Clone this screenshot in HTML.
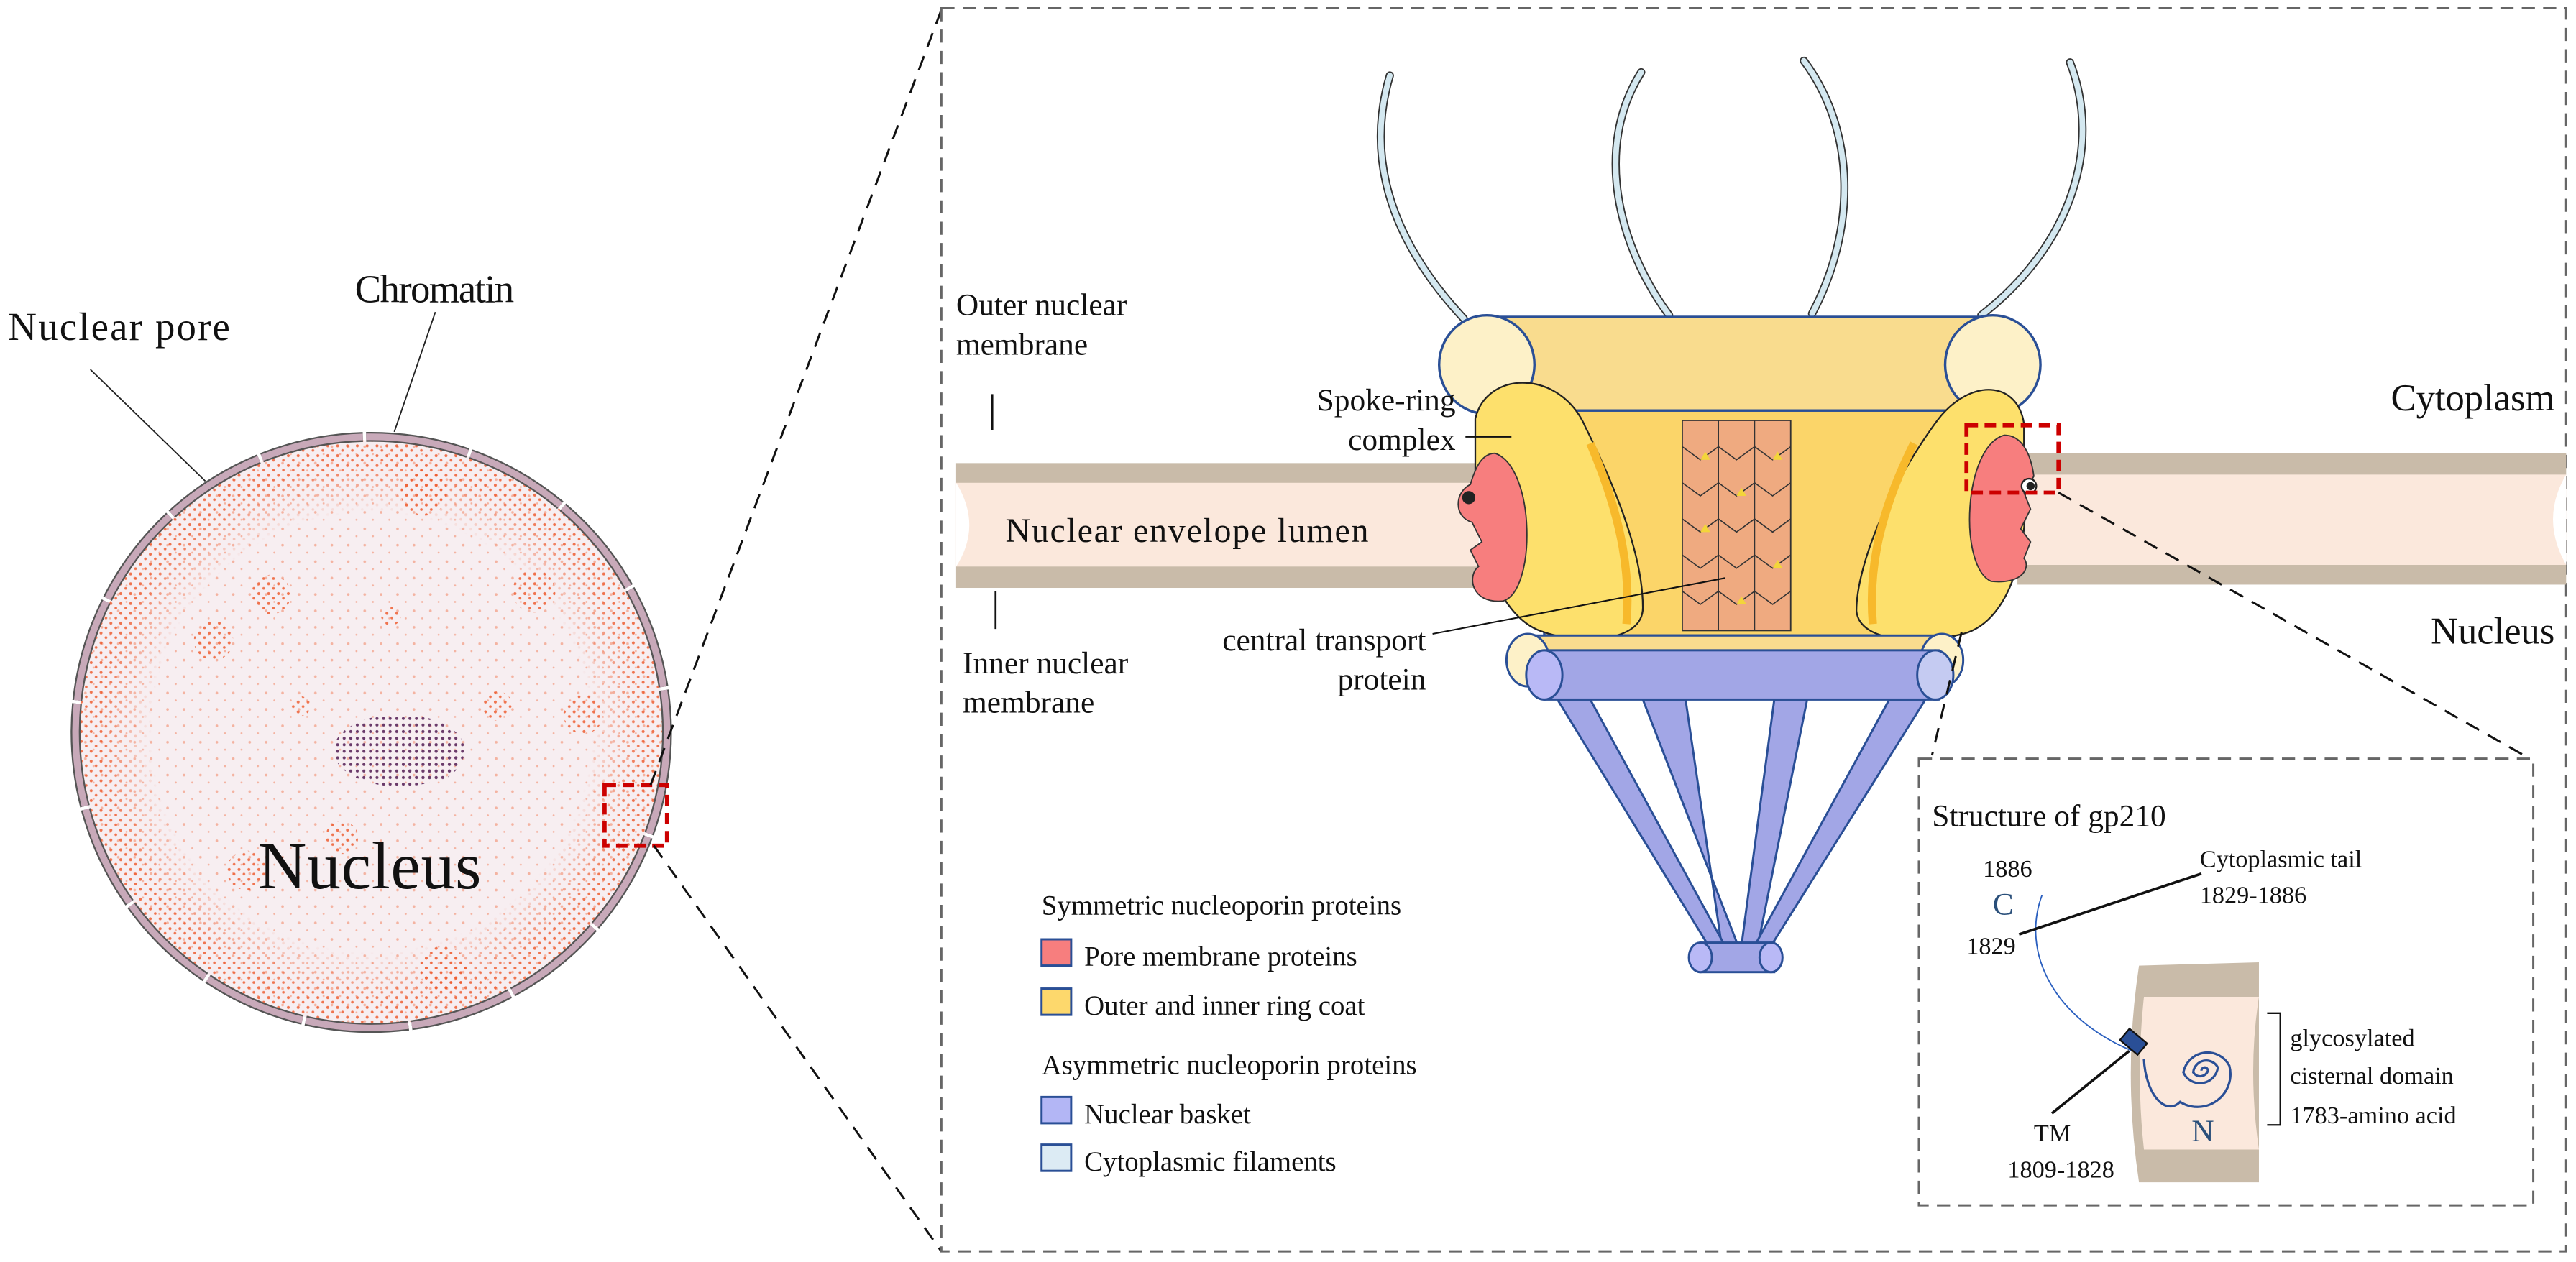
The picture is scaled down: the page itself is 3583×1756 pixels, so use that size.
<!DOCTYPE html>
<html><head><meta charset="utf-8"><style>
html,body{margin:0;padding:0;background:#fff;}
svg{display:block;}
text{font-family:"Liberation Serif",serif;fill:#111;}
</style></head><body>
<svg width="3583" height="1756" viewBox="0 0 1568 768.5" preserveAspectRatio="none" xmlns="http://www.w3.org/2000/svg">
<defs>
<pattern id="dots" width="10" height="10" patternUnits="userSpaceOnUse">
<circle cx="2" cy="2" r="0.8" fill="#ef5a2a"/><circle cx="7" cy="6.5" r="0.6" fill="#ef5a2a"/>
</pattern>
<pattern id="dense" width="6" height="6" patternUnits="userSpaceOnUse">
<circle cx="1.5" cy="1.5" r="0.9" fill="#ee5526"/><circle cx="4.5" cy="4.3" r="0.8" fill="#ee5526"/>
</pattern>
<pattern id="pur" width="4" height="4" patternUnits="userSpaceOnUse">
<circle cx="1.5" cy="1.5" r="0.9" fill="#6a3a6a"/>
</pattern>
<radialGradient id="ringmask" cx="0.5" cy="0.5" r="0.5">
<stop offset="0.75" stop-color="#000"/><stop offset="0.92" stop-color="#fff"/><stop offset="1" stop-color="#fff"/>
</radialGradient>
<mask id="m1"><circle cx="226" cy="446" r="178" fill="url(#ringmask)"/></mask>
</defs>

<!-- Nucleus -->
<circle cx="226" cy="446" r="178" fill="#f7eef1"/>
<circle cx="226" cy="446" r="178" fill="url(#dots)" opacity="0.4"/>
<circle cx="226" cy="446" r="178" fill="url(#dense)" mask="url(#m1)" opacity="0.8"/>
<g fill="url(#dense)" opacity="0.8">
<circle cx="130" cy="390" r="12"/><circle cx="165" cy="362" r="12"/><circle cx="325" cy="360" r="13"/><circle cx="355" cy="435" r="12"/>
<circle cx="208" cy="510" r="10"/><circle cx="303" cy="430" r="9"/><circle cx="183" cy="430" r="6"/><circle cx="238" cy="375" r="6"/>
<circle cx="258" cy="300" r="14"/><circle cx="150" cy="530" r="12"/><circle cx="270" cy="590" r="14"/>
</g>
<ellipse cx="243" cy="457" rx="40" ry="22" fill="url(#pur)"/>
<ellipse cx="262" cy="462" rx="18" ry="14" fill="url(#pur)"/>
<circle cx="226" cy="446" r="180" fill="none" stroke="#555" stroke-width="6" stroke-dasharray="63 2"/>
<circle cx="226" cy="446" r="180" fill="none" stroke="#c8a9b9" stroke-width="4" stroke-dasharray="63 2"/>
<line x1="55" y1="225" x2="125" y2="293" stroke="#222" stroke-width="0.8"/>
<text x="5" y="207" font-size="24" textLength="135">Nuclear pore</text>
<line x1="265" y1="190" x2="240" y2="263" stroke="#222" stroke-width="0.8"/>
<text x="216" y="184" font-size="24" textLength="97">Chromatin</text>
<text x="157" y="541" font-size="41" textLength="136">Nucleus</text>
<rect x="368" y="478" width="38" height="37" fill="none" stroke="#c00" stroke-width="2.5" stroke-dasharray="7 4"/>

<!-- zoom lines -->
<line x1="396" y1="478" x2="573" y2="6" stroke="#111" stroke-width="1.3" stroke-dasharray="9 6"/>
<line x1="398" y1="515" x2="573" y2="762" stroke="#111" stroke-width="1.3" stroke-dasharray="9 6"/>
<rect x="573" y="5" width="989" height="757" fill="none" stroke="#666" stroke-width="1.3" stroke-dasharray="8 5"/>

<!-- filaments -->
<g fill="none" stroke-linecap="round">
<g stroke="#333" stroke-width="5">
<path d="M891,194 C850,150 830,100 846,46"/><path d="M1016,192 C985,150 970,90 999,44"/>
<path d="M1103,191 C1130,140 1130,80 1098,37"/><path d="M1206,192 C1260,150 1280,90 1260,38"/>
</g>
<g stroke="#d4e8f0" stroke-width="3.4">
<path d="M891,194 C850,150 830,100 846,46"/><path d="M1016,192 C985,150 970,90 999,44"/>
<path d="M1103,191 C1130,140 1130,80 1098,37"/><path d="M1206,192 C1260,150 1280,90 1260,38"/>
</g>
</g>

<!-- membranes -->
<rect x="582" y="282" width="318" height="76" fill="#c9bba9"/>
<rect x="582" y="294" width="318" height="51" fill="#fbe8dc"/>
<path d="M582,294 Q598,320 582,345" fill="#fff"/>
<rect x="1228" y="276" width="334" height="80" fill="#c9bba9"/>
<rect x="1228" y="289" width="334" height="55" fill="#fbe8dc"/>
<path d="M1562,289 Q1546,316 1562,344" fill="#fff"/>

<!-- top cylinder -->
<rect x="905" y="193" width="305" height="58" fill="#f9dc8e" stroke="#2a4f96" stroke-width="1.5"/>
<ellipse cx="905" cy="222" rx="29" ry="30" fill="#fdf1c8" stroke="#2a4f96" stroke-width="1.5"/>
<ellipse cx="1213" cy="222" rx="29" ry="30" fill="#fdf1c8" stroke="#2a4f96" stroke-width="1.5"/>

<!-- middle body -->
<rect x="940" y="250" width="250" height="137" fill="#fbd569" stroke="#2a4f96" stroke-width="1.5"/>
<path d="M898,255 C905,225 950,225 965,260 C985,300 1000,340 1000,370 C1000,392 960,392 940,385 C915,378 900,340 898,300 Z" fill="#fde06c" stroke="#222" stroke-width="1"/>
<path d="M968,270 C985,310 993,345 990,380" stroke="#f7b92b" stroke-width="5" fill="none"/>
<path d="M1232,258 C1228,232 1200,230 1180,255 C1150,295 1130,345 1130,372 C1132,392 1170,392 1195,386 C1225,378 1236,330 1232,290 Z" fill="#fde06c" stroke="#222" stroke-width="1"/>
<path d="M1165,270 C1145,310 1137,345 1140,380" stroke="#f7b92b" stroke-width="5" fill="none"/>

<!-- central transport -->
<rect x="1024" y="256" width="66" height="128" fill="#efaa80" stroke="#333" stroke-width="0.8"/>
<g stroke="#333" stroke-width="0.7" fill="none">
<line x1="1046" y1="256" x2="1046" y2="384"/><line x1="1068" y1="256" x2="1068" y2="384"/>
<path d="M1024,272 l11,8 l11,-8 l11,8 l11,-8 l11,8 l11,-8"/>
<path d="M1024,294 l11,8 l11,-8 l11,8 l11,-8 l11,8 l11,-8"/>
<path d="M1024,316 l11,8 l11,-8 l11,8 l11,-8 l11,8 l11,-8"/>
<path d="M1024,338 l11,8 l11,-8 l11,8 l11,-8 l11,8 l11,-8"/>
<path d="M1024,360 l11,8 l11,-8 l11,8 l11,-8 l11,8 l11,-8"/>
</g>
<g fill="#f3d53a">
<path d="M1035,280 l3,-5 l3,5 z"/><path d="M1057,302 l3,-5 l3,5 z"/><path d="M1079,280 l3,-5 l3,5 z"/>
<path d="M1035,324 l3,-5 l3,5 z"/><path d="M1079,346 l3,-5 l3,5 z"/><path d="M1057,368 l3,-5 l3,5 z"/>
</g>

<!-- red pore proteins -->
<path d="M910,276 C935,285 935,360 915,366 C895,368 893,350 900,345 L895,335 L902,330 L896,318 C885,315 885,300 895,295 C898,285 902,276 910,276 Z" fill="#f77e7e" stroke="#333" stroke-width="0.8"/>
<circle cx="894" cy="303" r="4" fill="#222"/>
<path d="M1220,265 C1195,272 1192,345 1212,354 C1232,356 1236,345 1232,340 L1236,330 L1230,322 L1236,310 L1232,300 L1238,290 C1236,275 1230,265 1220,265 Z" fill="#f77e7e" stroke="#333" stroke-width="0.8"/>
<circle cx="1235" cy="296" r="4.5" fill="#fff" stroke="#222"/><circle cx="1236" cy="296" r="2.5" fill="#222"/>
<rect x="1197" y="259" width="56" height="41" fill="none" stroke="#c00" stroke-width="2.5" stroke-dasharray="7 4"/>

<!-- basket -->
<path d="M1026,426 L1048,576 L1058,576 L1000,426 Z" fill="#a2a6e6" stroke="#2a4f96" stroke-width="1.3"/>
<path d="M948,426 L1040,576 L1050,576 L968,426 Z" fill="#a2a6e6" stroke="#2a4f96" stroke-width="1.3"/>
<path d="M1080,426 L1060,576 L1070,576 L1100,426 Z" fill="#a2a6e6" stroke="#2a4f96" stroke-width="1.3"/>
<path d="M1150,426 L1068,576 L1078,576 L1172,426 Z" fill="#a2a6e6" stroke="#2a4f96" stroke-width="1.3"/>
<rect x="1035" y="574" width="45" height="18" fill="#a2a6e6" stroke="#2a4f96" stroke-width="1.3"/>
<ellipse cx="1035" cy="583" rx="7" ry="9" fill="#b9b9f6" stroke="#2a4f96" stroke-width="1.3"/>
<ellipse cx="1078" cy="583" rx="7" ry="9" fill="#b9b9f6" stroke="#2a4f96" stroke-width="1.3"/>
<rect x="930" y="387" width="250" height="24" fill="#f9dc8e" stroke="#2a4f96" stroke-width="1.3"/>
<ellipse cx="930" cy="402" rx="13" ry="16" fill="#fdf1c8" stroke="#2a4f96" stroke-width="1.3"/>
<ellipse cx="1182" cy="402" rx="13" ry="16" fill="#fdf1c8" stroke="#2a4f96" stroke-width="1.3"/>
<rect x="940" y="396" width="240" height="30" fill="#a2a6e6" stroke="#2a4f96" stroke-width="1.3"/>
<ellipse cx="940" cy="411" rx="11" ry="15" fill="#b9b9f6" stroke="#2a4f96" stroke-width="1.3"/>
<ellipse cx="1178" cy="411" rx="11" ry="15" fill="#c5cbf2" stroke="#2a4f96" stroke-width="1.3"/>

<!-- labels -->
<text x="582" y="192" font-size="19">Outer nuclear</text>
<text x="582" y="216" font-size="19">membrane</text>
<line x1="604" y1="240" x2="604" y2="262" stroke="#111" stroke-width="1.2"/>
<text x="612" y="330" font-size="21" textLength="221">Nuclear envelope lumen</text>
<line x1="606" y1="360" x2="606" y2="383" stroke="#111" stroke-width="1.2"/>
<text x="586" y="410" font-size="19">Inner nuclear</text>
<text x="586" y="434" font-size="19">membrane</text>
<text x="886" y="250" font-size="19" text-anchor="end">Spoke-ring</text>
<text x="886" y="274" font-size="19" text-anchor="end">complex</text>
<line x1="892" y1="266" x2="920" y2="266" stroke="#111" stroke-width="0.9"/>
<text x="868" y="396" font-size="19" text-anchor="end">central transport</text>
<text x="868" y="420" font-size="19" text-anchor="end">protein</text>
<line x1="872" y1="386" x2="1050" y2="352" stroke="#111" stroke-width="0.9"/>
<text x="1555" y="250" font-size="23" text-anchor="end">Cytoplasm</text>
<text x="1555" y="392" font-size="23" text-anchor="end">Nucleus</text>
<line x1="1194" y1="385" x2="1176" y2="460" stroke="#111" stroke-width="1.3" stroke-dasharray="9 6"/>
<line x1="1253" y1="300" x2="1540" y2="462" stroke="#111" stroke-width="1.3" stroke-dasharray="9 6"/>

<!-- legend -->
<text x="634" y="557" font-size="17">Symmetric nucleoporin proteins</text>
<rect x="634" y="572" width="18" height="16" fill="#f77e7e" stroke="#2a4f96" stroke-width="1.3"/>
<text x="660" y="588" font-size="17">Pore membrane  proteins</text>
<rect x="634" y="602" width="18" height="16" fill="#fdd86c" stroke="#2a4f96" stroke-width="1.3"/>
<text x="660" y="618" font-size="17">Outer and inner ring coat</text>
<text x="634" y="654" font-size="17">Asymmetric nucleoporin proteins</text>
<rect x="634" y="668" width="18" height="16" fill="#b3b6f5" stroke="#2a4f96" stroke-width="1.3"/>
<text x="660" y="684" font-size="17">Nuclear basket</text>
<rect x="634" y="697" width="18" height="16" fill="#dcebf4" stroke="#2a4f96" stroke-width="1.3"/>
<text x="660" y="713" font-size="17">Cytoplasmic filaments</text>

<!-- inset -->
<rect x="1168" y="462" width="374" height="272" fill="none" stroke="#666" stroke-width="1.3" stroke-dasharray="8 5"/>
<text x="1176" y="503" font-size="19">Structure of gp210</text>
<path d="M1302,588 L1375,586 L1375,720 L1302,720 Q1292,654 1302,588 Z" fill="#c9bba9"/>
<path d="M1305,607 L1375,607 Q1368,652 1375,700 L1305,700 Q1300,654 1305,607 Z" fill="#fbe8dc"/>
<path d="M1243,545 C1230,580 1250,620 1298,640" fill="none" stroke="#2a5fbf" stroke-width="0.8"/>
<path d="M1340,652 a2,2 0 0 1 4,0 a5,5 0 0 1 -9,1 a8,8 0 0 1 15,-3 a11,11 0 0 1 -21,3 a15,15 0 0 1 28,-4 a20,20 0 0 1 -30,22 C1318,680 1306,666 1305,645" fill="none" stroke="#2a4f96" stroke-width="1.4"/>
<rect x="1292" y="630" width="14" height="9" transform="rotate(40 1299 634)" fill="#2a4f96" stroke="#111" stroke-width="1"/>
<line x1="1249" y1="678" x2="1296" y2="640" stroke="#111" stroke-width="1.6"/>
<line x1="1229" y1="569" x2="1340" y2="532" stroke="#111" stroke-width="1.6"/>
<path d="M1380,617 L1388,617 L1388,685 L1380,685" fill="none" stroke="#111" stroke-width="1"/>
<text x="1207" y="534" font-size="15">1886</text>
<text x="1213" y="557" font-size="19" style="fill:#2a4f7a">C</text>
<text x="1197" y="581" font-size="15">1829</text>
<text x="1339" y="528" font-size="15">Cytoplasmic tail</text>
<text x="1339" y="550" font-size="15">1829-1886</text>
<text x="1394" y="637" font-size="15">glycosylated</text>
<text x="1394" y="660" font-size="15">cisternal domain</text>
<text x="1394" y="684" font-size="15">1783-amino acid</text>
<text x="1334" y="695" font-size="19" style="fill:#2a4f7a">N</text>
<text x="1238" y="695" font-size="15">TM</text>
<text x="1222" y="717" font-size="15">1809-1828</text>
</svg>
</body></html>
